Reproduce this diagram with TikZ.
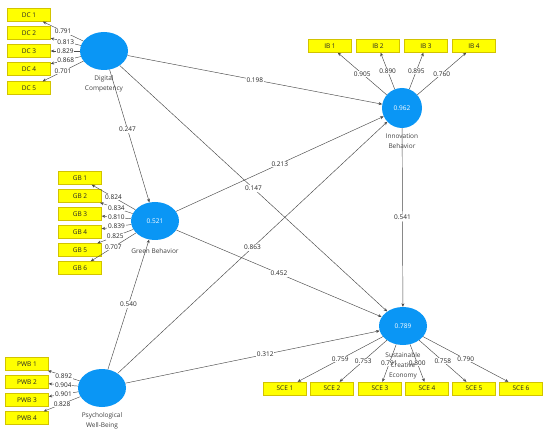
\documentclass[tikz,border=0pt]{standalone}
\usepackage{fontspec}
\setsansfont{Open Sans}
\usetikzlibrary{arrows.meta,positioning,shapes.geometric}
\definecolor{lvblue}{HTML}{0A96F5}
\definecolor{indyel}{HTML}{FFFF00}
\definecolor{indedge}{HTML}{D2C300}
\definecolor{pathgray}{HTML}{4A4A4A}

\begin{document}
\begin{tikzpicture}[x=1pt, y=-1pt,
    font=\sffamily\fontsize{6.5}{10}\selectfont,
    lv/.style={ellipse, fill=lvblue, minimum width=48pt, minimum height=38pt, inner sep=0pt, text=white},
    ind/.style={draw=indedge, fill=indyel, minimum width=43pt, minimum height=13pt, inner sep=0pt, text=black!85},
    lvname/.style={align=center, text=black!75, inner sep=0pt},
    coef/.style={fill=white, inner sep=0.8pt, text=black!85},
    arr/.style={-{Stealth[length=3.5pt,width=3pt]}, line width=0.45pt, color=pathgray}
  ]
  \useasboundingbox[fill=white] (0,0) rectangle (550,436);

  % latent variables
  \node[lv] (DC) at (104,51) {};
  \node[lv] (GB) at (155,221) {0.521};
  \node[lv] (PWB) at (102,388) {};
  \node[lv, minimum width=40pt, minimum height=40pt] (IB) at (402,108) {0.962};
  \node[lv] (SCE) at (403,326) {0.789};

  % indicators
  \node[ind] (dc1) at (29,15) {DC 1};
  \node[ind] (dc2) at (29,33) {DC 2};
  \node[ind] (dc3) at (29,51) {DC 3};
  \node[ind] (dc4) at (29,69) {DC 4};
  \node[ind] (dc5) at (29,88) {DC 5};
  \node[ind] (ib1) at (330,46) {IB 1};
  \node[ind] (ib2) at (378,46) {IB 2};
  \node[ind] (ib3) at (426,46) {IB 3};
  \node[ind] (ib4) at (474,46) {IB 4};
  \node[ind] (gb1) at (80,178) {GB 1};
  \node[ind] (gb2) at (80,196) {GB 2};
  \node[ind] (gb3) at (80,214) {GB 3};
  \node[ind] (gb4) at (80,232) {GB 4};
  \node[ind] (gb5) at (80,250) {GB 5};
  \node[ind] (gb6) at (80,268) {GB 6};
  \node[ind] (pwb1) at (27,364) {PWB 1};
  \node[ind] (pwb2) at (27,382) {PWB 2};
  \node[ind] (pwb3) at (27,400) {PWB 3};
  \node[ind] (pwb4) at (27,418) {PWB 4};
  \node[ind] (sce1) at (285,388.5) {SCE 1};
  \node[ind] (sce2) at (332,388.5) {SCE 2};
  \node[ind] (sce3) at (380,388.5) {SCE 3};
  \node[ind] (sce4) at (427,388.5) {SCE 4};
  \node[ind] (sce5) at (474,388.5) {SCE 5};
  \node[ind] (sce6) at (521,388.5) {SCE 6};

  % outer loadings
  \draw[arr] (DC) -- node[coef] {0.791} (dc1);
  \draw[arr] (DC) -- node[coef] {0.813} (dc2);
  \draw[arr] (DC) -- node[coef] {0.829} (dc3);
  \draw[arr] (DC) -- node[coef] {0.868} (dc4);
  \draw[arr] (DC) -- node[coef] {0.701} (dc5);
  \draw[arr] (IB) -- node[coef] {0.905} (ib1);
  \draw[arr] (IB) -- node[coef] {0.890} (ib2);
  \draw[arr] (IB) -- node[coef] {0.895} (ib3);
  \draw[arr] (IB) -- node[coef] {0.760} (ib4);
  \draw[arr] (GB) -- node[coef] {0.824} (gb1);
  \draw[arr] (GB) -- node[coef] {0.834} (gb2);
  \draw[arr] (GB) -- node[coef] {0.810} (gb3);
  \draw[arr] (GB) -- node[coef] {0.839} (gb4);
  \draw[arr] (GB) -- node[coef] {0.825} (gb5);
  \draw[arr] (GB) -- node[coef] {0.707} (gb6);
  \draw[arr] (PWB) -- node[coef] {0.892} (pwb1);
  \draw[arr] (PWB) -- node[coef] {0.904} (pwb2);
  \draw[arr] (PWB) -- node[coef] {0.901} (pwb3);
  \draw[arr] (PWB) -- node[coef] {0.828} (pwb4);
  \draw[arr] (SCE) -- node[coef] {0.759} (sce1);
  \draw[arr] (SCE) -- node[coef] {0.753} (sce2);
  \draw[arr] (SCE) -- node[coef] {0.791} (sce3);
  \draw[arr] (SCE) -- node[coef] {0.800} (sce4);
  \draw[arr] (SCE) -- node[coef] {0.758} (sce5);
  \draw[arr] (SCE) -- node[coef] {0.790} (sce6);

  % path coefficients
  \draw[arr] (DC) -- node[coef] {0.198} (IB);
  \draw[arr] (DC) -- node[coef, pos=0.45] {0.247} (GB);
  \draw[arr] (DC) -- node[coef] {0.147} (SCE);
  \draw[arr] (GB) -- node[coef] {0.213} (IB);
  \draw[arr] (GB) -- node[coef] {0.452} (SCE);
  \draw[arr] (PWB) -- node[coef] {0.540} (GB);
  \draw[arr] (PWB) -- node[coef] {0.863} (IB);
  \draw[arr] (PWB) -- node[coef, pos=0.55] {0.312} (SCE);
  \draw[arr] (IB) -- node[coef] {0.541} (SCE);

  % construct names
  \node[lvname, below=5pt of DC] (DCname) {Digital\\Competency};
  \node[lvname, below=5pt of IB] (IBname) {Innovation\\Behavior};
  \node[lvname, below=8pt of GB] (GBname) {Green Behavior};
  \node[lvname, below=5pt of PWB] (PWBname) {Psychological\\Well-Being};
  \node[lvname, below=7pt of SCE] (SCEname) {Sustainable\\Creative\\Economy};
\end{tikzpicture}
\end{document}
